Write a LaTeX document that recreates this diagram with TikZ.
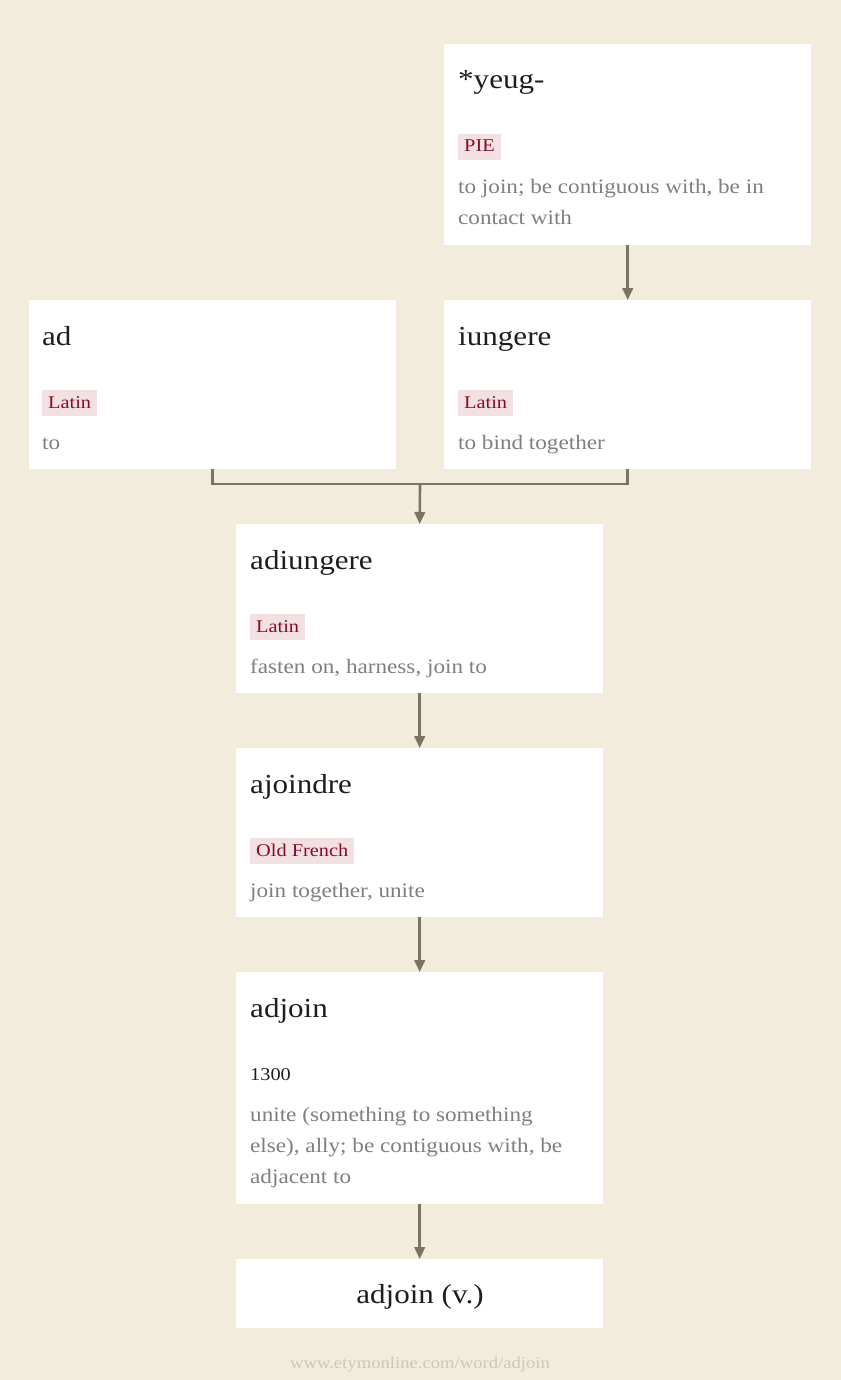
\documentclass[tikz,border=0pt]{standalone}
\usepackage{fontspec}
\setmainfont{Liberation Serif}[FakeStretch=1.13]
\usetikzlibrary{arrows.meta}
\definecolor{bg}{HTML}{F2ECDC}
\definecolor{conn}{HTML}{7A7563}
\definecolor{tagbg}{HTML}{F2E1E3}
\definecolor{tagfg}{HTML}{8A0A2A}
\definecolor{desc}{HTML}{7F7F7F}
\definecolor{title}{HTML}{1E1E1E}
\definecolor{foot}{HTML}{CEC7B4}
\tikzset{
  card/.style={fill=white, draw=none, inner sep=0pt, anchor=north west, minimum width=367pt},
  ttl/.style={anchor=base west, inner sep=0pt, text=title, font=\fontsize{27.5}{32}\selectfont},
  tag/.style={anchor=base west, fill=tagbg, text=tagfg, inner xsep=6pt, inner ysep=0pt, text height=18pt, text depth=8pt, font=\fontsize{18}{22}\selectfont},
  dsc/.style={anchor=base west, inner sep=0pt, text=desc, align=left, font=\fontsize{20.5}{31}\selectfont},
  yr/.style={anchor=base west, inner sep=0pt, text=title, font=\fontsize{18}{22}\selectfont},
  conn/.style={draw=conn, line width=2.6pt},
  arr/.style={conn, -{Triangle[length=12pt,width=10.5pt]}}
}
\begin{document}
\begin{tikzpicture}[x=1pt,y=-1pt]
\useasboundingbox (0,0) rectangle (840,1380);
\fill[bg] (-6,-6) rectangle (846,1386);
% cards
\node[card, minimum height=201pt] (yeug) at (444,44) {};
\node[card, minimum height=169pt] (ad) at (29,300) {};
\node[card, minimum height=169pt] (iung) at (444,300) {};
\node[card, minimum height=169pt] (adiu) at (236,524) {};
\node[card, minimum height=169pt] (ajoi) at (236,748) {};
\node[card, minimum height=232pt] (adjo) at (236,972) {};
\node[card, minimum height=69pt] (fin) at (236,1259) {};
% yeug
\node[ttl] (yeugT) at (458,89) {*yeug-};
\node[tag] (yeugL) at (458,152) {PIE};
\node[dsc] (yeugD) at (458,225) {to join; be contiguous with, be in\\contact with};
% ad
\node[ttl] (adT) at (42,345) {ad};
\node[tag] (adL) at (42,408) {Latin};
\node[dsc] (adD) at (42,449) {to};
% iungere
\node[ttl] (iungT) at (458,345) {iungere};
\node[tag] (iungL) at (458,408) {Latin};
\node[dsc] (iungD) at (458,449) {to bind together};
% adiungere
\node[ttl] (adiuT) at (250,569) {adiungere};
\node[tag] (adiuL) at (250,632) {Latin};
\node[dsc] (adiuD) at (250,673) {fasten on, harness, join to};
% ajoindre
\node[ttl] (ajoiT) at (250,793) {ajoindre};
\node[tag] (ajoiL) at (250,856) {Old French};
\node[dsc] (ajoiD) at (250,897) {join together, unite};
% adjoin
\node[ttl] (adjoT) at (250,1017) {adjoin};
\node[yr] (adjoY) at (250,1080) {1300};
\node[dsc] (adjoD) at (250,1183) {unite (something to something\\else), ally; be contiguous with, be\\adjacent to};
% final
\node[anchor=base, inner sep=0pt, text=title, font=\fontsize{27.5}{32}\selectfont] (finT) at (420,1303) {adjoin (v.)};
% footer
\node[anchor=base, inner sep=0pt, text=foot, font=\fontsize{16.5}{18}\selectfont] (footer) at (420,1368) {www.etymonline.com/word/adjoin};
% connectors
\coordinate (mj) at (420,484);
\draw[arr] (yeug.south) -- (iung.north);
\draw[conn] (ad.south) |- (mj) -| (iung.south);
\draw[arr] (mj) -- (adiu.north);
\draw[arr] (adiu.south) -- (ajoi.north);
\draw[arr] (ajoi.south) -- (adjo.north);
\draw[arr] (adjo.south) -- (fin.north);
\end{tikzpicture}
\end{document}
